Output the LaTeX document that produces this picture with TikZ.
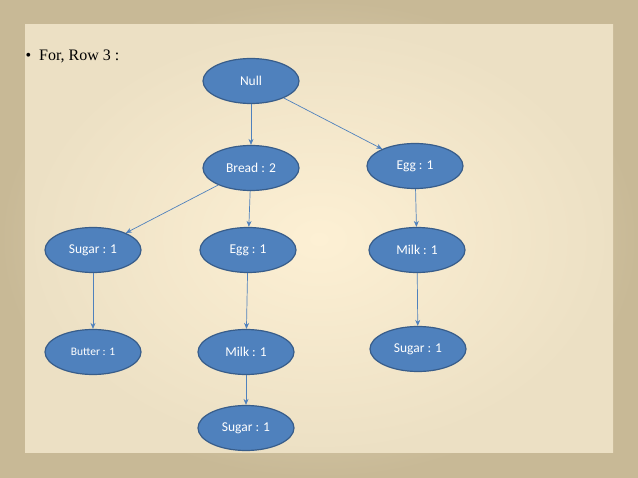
\documentclass[tikz,border=0pt]{standalone}
\usepackage{fontspec}
\setmainfont{Liberation Serif}
\newfontfamily\carlitofont{Carlito}
\usetikzlibrary{shapes.geometric,arrows.meta}
\definecolor{nfill}{RGB}{79,129,189}
\definecolor{nline}{RGB}{56,93,138}
\definecolor{bgout}{RGB}{200,185,150}
\definecolor{bgmid}{RGB}{236,224,196}
\definecolor{bgin}{RGB}{253,240,212}
\begin{document}
\begin{tikzpicture}[x=1pt,y=-1pt,
  nd/.style={ellipse,draw=nline,line width=1.2pt,fill=nfill,minimum width=96pt,minimum height=45pt,inner sep=0pt,text=white,font=\carlitofont\fontsize{13.5}{15}\selectfont},
  ed/.style={draw=nfill,line width=0.7pt,-{Stealth[length=6pt,width=5pt]}}]
\useasboundingbox (0,0) rectangle (638,478);
\shade[outer color=bgout,inner color=bgmid] (0,0) rectangle (638,478);
\shade[outer color=bgmid,inner color=bgin] (25,25) rectangle (613,453);
\node[anchor=west,font=\fontsize{16}{18}\selectfont] (t) at (22,56) {\textbullet\hspace{8pt}For, Row 3 :};
\node[nd] (null) at (251,81) {Null};
\node[nd] (bread) at (251,168) {Bread : 2};
\node[nd] (egg1) at (415,166) {Egg : 1};
\node[nd] (sug1) at (93,250) {Sugar : 1};
\node[nd] (egg2) at (248,250) {Egg : 1};
\node[nd] (milk1) at (417,250) {Milk : 1};
\node[nd,font=\carlitofont\fontsize{11.5}{13}\selectfont] (but) at (93,352) {Butter : 1};
\node[nd] (milk2) at (246,352) {Milk : 1};
\node[nd] (sug2) at (418,349) {Sugar : 1};
\node[nd] (sug3) at (246,428) {Sugar : 1};
\draw[ed] (null) -- (bread);
\draw[ed] (null) -- (egg1);
\draw[ed] (bread) -- (sug1);
\draw[ed] (bread) -- (egg2);
\draw[ed] (egg1) -- (milk1);
\draw[ed] (sug1) -- (but);
\draw[ed] (egg2) -- (milk2);
\draw[ed] (milk1) -- (sug2);
\draw[ed] (milk2) -- (sug3);
\end{tikzpicture}
\end{document}
